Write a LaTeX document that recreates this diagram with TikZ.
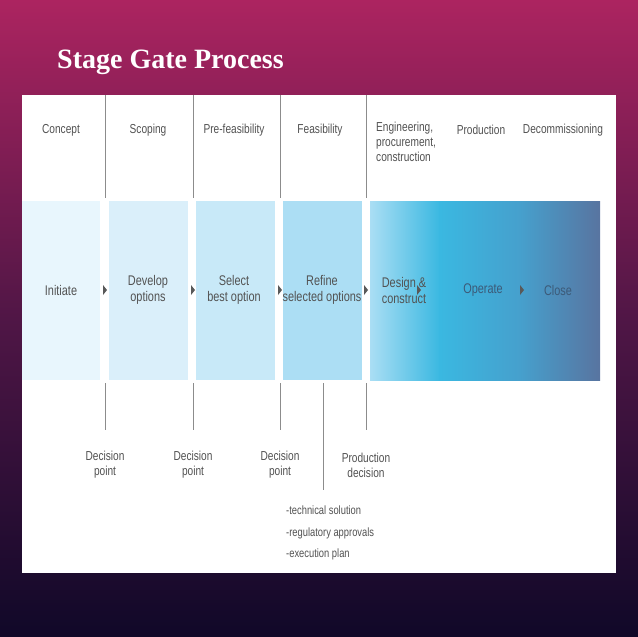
\documentclass[tikz,border=0pt]{standalone}
\usepackage{fontspec}
\setmainfont{Liberation Serif}
\newfontfamily\narrowsans[FakeStretch=0.78]{Liberation Sans}
\definecolor{bgtop}{RGB}{172,36,96}
\definecolor{bgmid}{RGB}{80,22,70}
\definecolor{bgbot}{RGB}{16,8,40}
\definecolor{b1}{RGB}{232,246,253}
\definecolor{b2}{RGB}{218,239,250}
\definecolor{b3}{RGB}{200,233,248}
\definecolor{b4}{RGB}{172,222,244}
\definecolor{g1}{RGB}{170,222,244}
\definecolor{g2}{RGB}{58,184,225}
\definecolor{g3}{RGB}{70,160,205}
\definecolor{g4}{RGB}{88,116,160}
\definecolor{optxt}{RGB}{60,90,120}
\begin{document}
\begin{tikzpicture}[x=1pt,y=-1pt,
  lbl/.style={font=\narrowsans\fontsize{13}{15}\selectfont, text=black!68, align=center, inner sep=0},
  big/.style={lbl, font=\narrowsans\fontsize{14}{16}\selectfont},
  tick/.style={draw=black!45, line width=0.9pt},
  tri/.style={fill=black!65, draw=none}]
\useasboundingbox (0,0) rectangle (638,637);
\shade[top color=bgtop, bottom color=bgbot, middle color=bgmid] (0,0) rectangle (638,637);
\node[anchor=west, text=white, font=\bfseries\fontsize{28}{32}\selectfont, inner sep=0] (title) at (57,62) {Stage Gate Process};
\fill[white] (22,95) rectangle (616,573);
% bands
\fill[b1] (22,201) rectangle (100,380);
\fill[b2] (109,201) rectangle (188,380);
\fill[b3] (196,201) rectangle (275,380);
\fill[b4] (283,201) rectangle (362,380);
\shade[left color=g1, right color=g2] (370,201) rectangle (440,380);
\shade[left color=g2, right color=g4, middle color=g3] (439.5,201) rectangle (600,380);
% top headings
\foreach \x in {105,193,280,366}{\draw[tick] (\x,95) -- (\x,198);}
\node[lbl] (h1) at (61,130) {Concept};
\node[lbl] (h2) at (148,130) {Scoping};
\node[lbl] (h3) at (234,130) {Pre-feasibility};
\node[lbl] (h4) at (320,130) {Feasibility};
\node[lbl, align=left, anchor=north west] (h5) at (376,122) {Engineering,\\procurement,\\construction};
\node[lbl] (h6) at (481,130) {Production};
\node[lbl] (h7) at (563,130) {Decommissioning};
% band texts
\node[big] (s1) at (61,290) {Initiate};
\node[big] (s2) at (148,290) {Develop\\options};
\node[big] (s3) at (234,290) {Select\\best option};
\node[big] (s4) at (322,290) {Refine\\selected options};
\node[big] (s5) at (404,290) {Design \&\\construct};
\node[big, text=optxt] (s6) at (483,290) {Operate};
\node[big, text=optxt] (s7) at (558,290) {Close};
\foreach \x in {103,191,278,364,417,520}{\fill[tri] (\x,285) -- (\x+4,290) -- (\x,295) -- cycle;}
% bottom ticks
\foreach \x in {105,193,280,366}{\draw[tick] (\x,383) -- (\x,430);}
\draw[tick] (323,383) -- (323,490);
\node[lbl] (d1) at (105,465) {Decision\\point};
\node[lbl] (d2) at (193,465) {Decision\\point};
\node[lbl] (d3) at (280,465) {Decision\\point};
\node[lbl] (d4) at (366,465) {Production\\decision};
\node[lbl, align=left, anchor=north west, font=\narrowsans\fontsize{12}{21.5}\selectfont] (b) at (286,506) {-technical solution\\-regulatory approvals\\-execution plan};
\end{tikzpicture}
\end{document}
